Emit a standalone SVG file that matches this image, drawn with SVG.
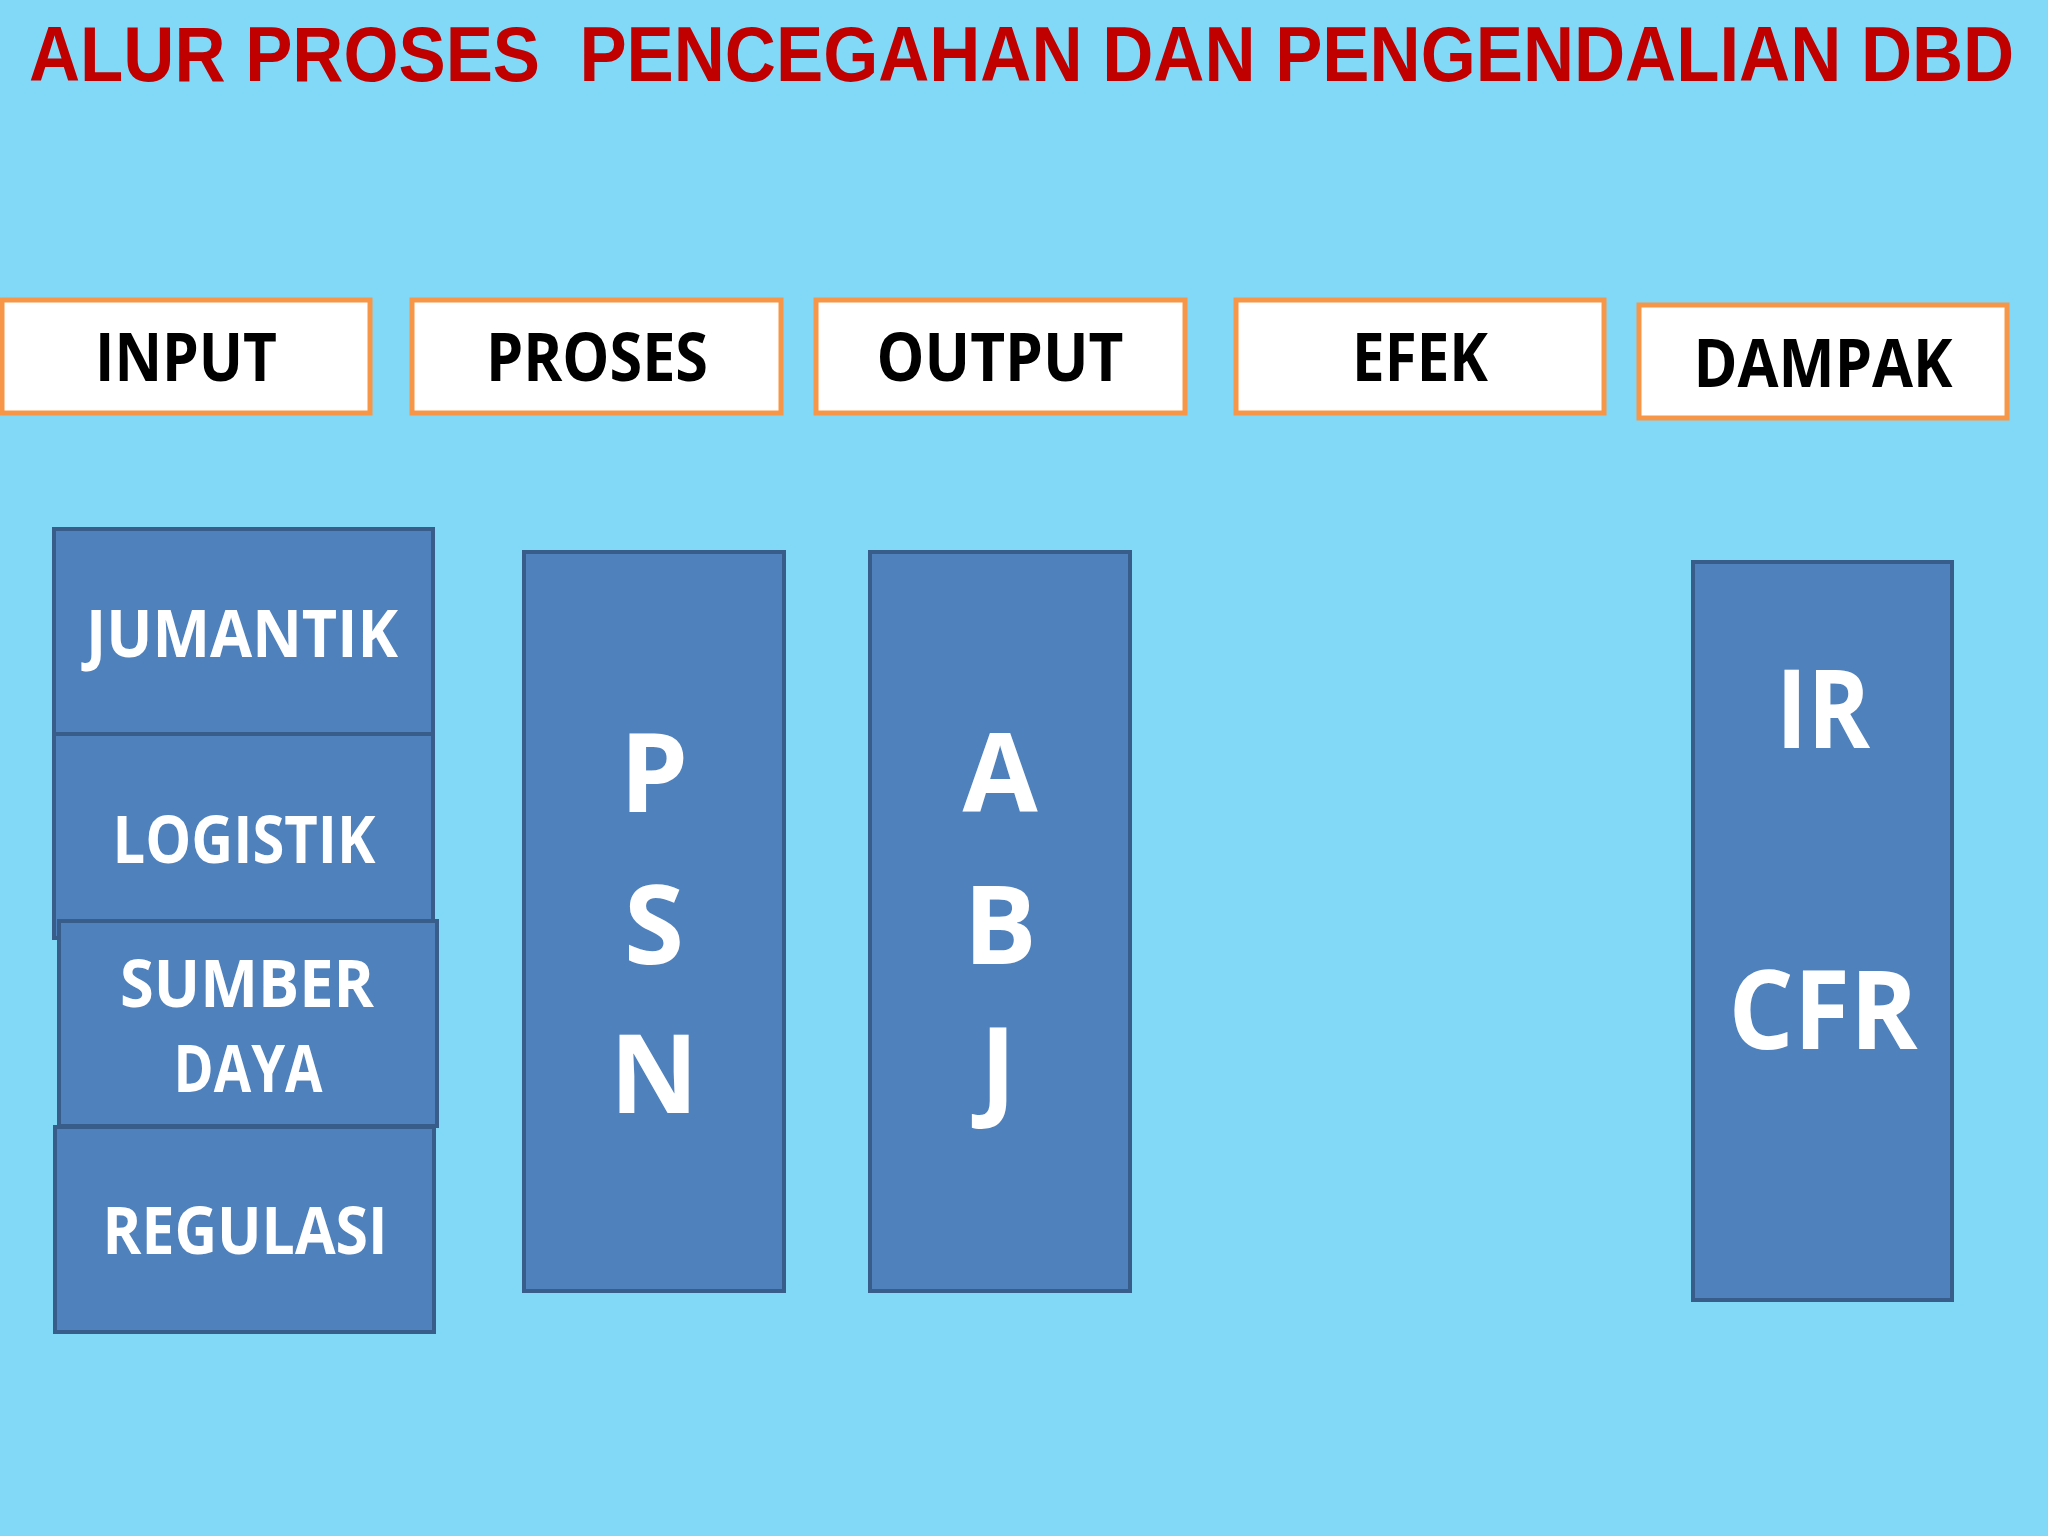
<svg xmlns="http://www.w3.org/2000/svg" width="2048" height="1536" viewBox="0 0 2048 1536">
<style>
.hdr{fill:#FFFFFF;stroke:#F79646;stroke-width:5}
.blk{fill:#4F81BD;stroke:#385D8A;stroke-width:4}
.ht{font-family:"Open Sans","Liberation Sans",sans-serif;font-weight:bold;font-size:66px;fill:#000000;text-anchor:middle}
.bt{font-family:"Open Sans","Liberation Sans",sans-serif;font-weight:bold;font-size:67px;fill:#FFFFFF;text-anchor:middle}
.big{font-family:"Open Sans","Liberation Sans",sans-serif;font-weight:bold;font-size:109px;fill:#FFFFFF;text-anchor:middle}
.title{font-family:"Liberation Sans",Arial,sans-serif;font-weight:bold;font-size:77px;fill:#C00000}
</style>
<rect x="0" y="0" width="2048" height="1536" fill="#81D8F7"/>
<text class="title" transform="translate(29,81) scale(0.919,1)" x="0" y="0" xml:space="preserve">ALUR PROSES  PENCEGAHAN DAN PENGENDALIAN DBD</text>

<g id="hdr-input"><rect class="hdr" x="2" y="300" width="368" height="113"/><text class="ht" x="186" y="381" textLength="182" lengthAdjust="spacingAndGlyphs">INPUT</text></g>
<g id="hdr-proses"><rect class="hdr" x="412" y="300" width="369" height="113"/><text class="ht" x="597" y="381" textLength="222" lengthAdjust="spacingAndGlyphs">PROSES</text></g>
<g id="hdr-output"><rect class="hdr" x="816" y="300" width="369" height="113"/><text class="ht" x="1000" y="381" textLength="247" lengthAdjust="spacingAndGlyphs">OUTPUT</text></g>
<g id="hdr-efek"><rect class="hdr" x="1236" y="300" width="368" height="113"/><text class="ht" x="1420" y="381" textLength="136" lengthAdjust="spacingAndGlyphs">EFEK</text></g>
<g id="hdr-dampak"><rect class="hdr" x="1639" y="305" width="368" height="113"/><text class="ht" x="1823" y="387" textLength="259" lengthAdjust="spacingAndGlyphs">DAMPAK</text></g>

<g id="jumantik"><rect class="blk" x="54" y="529" width="379" height="205"/><text class="bt" x="242" y="657" textLength="312" lengthAdjust="spacingAndGlyphs">JUMANTIK</text></g>
<g id="logistik"><rect class="blk" x="54" y="734" width="379" height="204"/><text class="bt" x="244" y="863" textLength="263" lengthAdjust="spacingAndGlyphs">LOGISTIK</text></g>
<g id="sumber-daya"><rect class="blk" x="59" y="921" width="378" height="205"/><text class="bt" x="247" y="1007" textLength="254" lengthAdjust="spacingAndGlyphs">SUMBER</text><text class="bt" x="248" y="1092" textLength="149" lengthAdjust="spacingAndGlyphs">DAYA</text></g>
<g id="regulasi"><rect class="blk" x="55" y="1127" width="379" height="205"/><text class="bt" x="245" y="1254" textLength="285" lengthAdjust="spacingAndGlyphs">REGULASI</text></g>

<g id="psn"><rect class="blk" x="524" y="552" width="260" height="739"/><text class="big" x="654" y="812">P</text><text class="big" x="654" y="964">S</text><text class="big" x="654" y="1113">N</text></g>
<g id="abj"><rect class="blk" x="870" y="552" width="260" height="739"/><text class="big" x="1000" y="812">A</text><text class="big" x="1000" y="964">B</text><text class="big" x="998" y="1106">J</text></g>
<g id="ir-cfr"><rect class="blk" x="1693" y="562" width="259" height="738"/><text class="big" x="1823" y="748" textLength="94" lengthAdjust="spacingAndGlyphs">IR</text><text class="big" x="1823" y="1049" textLength="189" lengthAdjust="spacingAndGlyphs">CFR</text></g>

<g id="connectors"></g>
</svg>
